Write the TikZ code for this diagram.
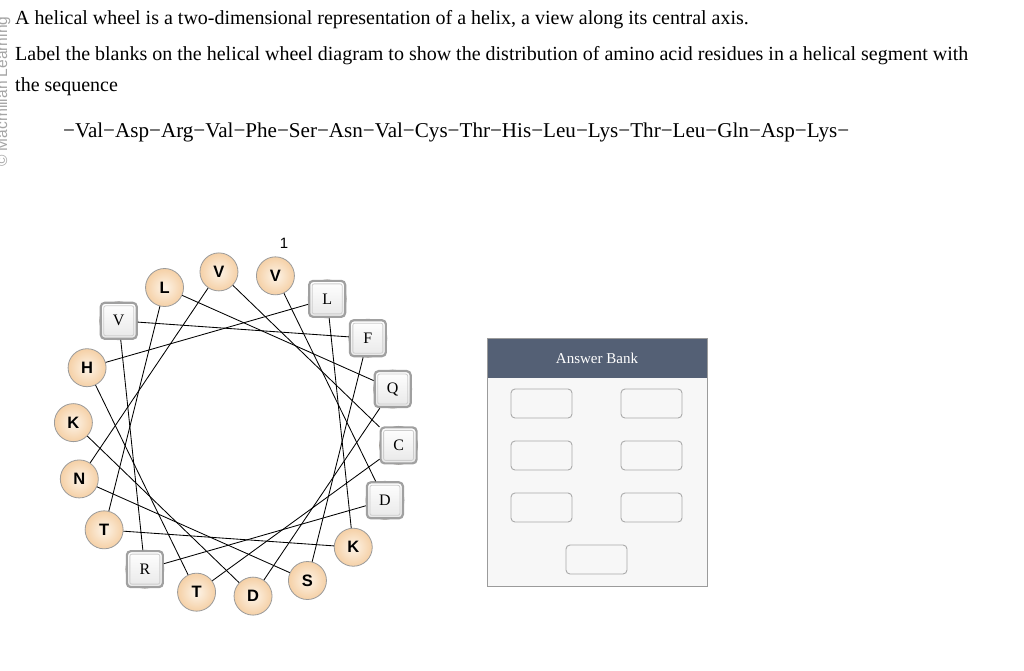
\documentclass[tikz,border=0pt]{standalone}
\usepackage{fontspec}
\setmainfont{Liberation Serif}
\newfontfamily\lsans{Liberation Sans}
\definecolor{peachin}{RGB}{253,244,232}
\definecolor{peachout}{RGB}{245,208,166}
\definecolor{ringgray}{RGB}{155,155,155}
\definecolor{boxgray}{RGB}{160,160,160}
\definecolor{boxinner}{RGB}{205,205,205}
\definecolor{bankhead}{RGB}{84,96,117}
\definecolor{bankfill}{RGB}{247,247,247}
\definecolor{bankline}{RGB}{155,155,155}
\definecolor{blankline}{RGB}{170,170,170}
\definecolor{wmgray}{RGB}{165,165,165}
\tikzset{
  resc/.style={circle, minimum size=38pt, inner sep=0pt, draw=ringgray, line width=0.8pt,
    shading=radial, inner color=peachin, outer color=peachout,
    font=\lsans\bfseries\fontsize{16.5}{16.5}\selectfont},
  resbox/.style={rectangle, rounded corners=4pt, minimum size=36pt, inner sep=0pt,
    draw=boxgray, line width=2.2pt, top color=white, bottom color=black!9,
    font=\fontsize{16}{16}\selectfont,
    path picture={\draw[boxinner, line width=0.8pt, rounded corners=2pt]
      ([xshift=3pt,yshift=3pt]path picture bounding box.south west) rectangle
      ([xshift=-3pt,yshift=-3pt]path picture bounding box.north east);}},
  link/.style={draw=black, line width=0.85pt},
  txt/.style={anchor=base west, inner sep=0pt, font=\fontsize{20}{20}\selectfont},
  blank/.style={rectangle, rounded corners=4pt, minimum width=61pt, minimum height=29pt,
    inner sep=0pt, draw=blankline, line width=0.9pt, fill=bankfill}
}
\newcommand\sm{\char"2212\relax}
\begin{document}
\begin{tikzpicture}[x=1pt,y=-1pt]
\useasboundingbox[fill=white] (0,0) rectangle (1024,670);
% watermark
\node[rotate=90, anchor=base west, inner sep=0pt, text=wmgray,
  font=\lsans\fontsize{15.5}{15.5}\selectfont] (wm) at (7,167) {© Macmillan Learning};
% texts
\node[txt] (t1) at (15,24) {A helical wheel is a two-dimensional representation of a helix, a view along its central axis.};
\node[txt] (t2) at (15,60.5) {Label the blanks on the helical wheel diagram to show the distribution of amino acid residues in a helical segment with};
\node[txt] (t3) at (15,91) {the sequence};
\node[txt, font=\fontsize{21.1}{21.1}\selectfont] (seq) at (63,137)
  {\sm Val\sm Asp\sm Arg\sm Val\sm Phe\sm Ser\sm Asn\sm Val\sm Cys\sm Thr\sm His\sm Leu\sm Lys\sm Thr\sm Leu\sm Gln\sm Asp\sm Lys\sm};
% positions
\foreach \i in {1,...,18}{
  \pgfmathsetmacro\ang{76-100*(\i-1)}
  \coordinate (p\i) at ({236+163*cos(\ang)},{434-163*sin(\ang)});
}
% circle residues
\foreach \i/\L in {1/V,6/S,7/N,8/V,10/T,11/H,13/K,14/T,15/L,17/D,18/K}{
  \node[resc] (r\i) at (p\i) {\L};
}
% boxed residues (blanks)
\foreach \i/\L in {2/D,3/R,4/V,5/F,9/C,12/L,16/Q}{
  \node[resc] (c\i) at (p\i) {};
  \node[resbox] (r\i) at (p\i) {\L};
}
\node[inner sep=0pt, font=\lsans\fontsize{15}{15}\selectfont] (one) at (284,243) {1};
% connectors
\foreach \a [evaluate=\a as \b using int(\a+1)] in {1,...,17}{
  \draw[link] (r\a) -- (r\b);
}
% answer bank
\node[rectangle, draw=bankline, line width=0.9pt, fill=bankfill, inner sep=0pt,
  minimum width=220pt, minimum height=248pt, anchor=north west] (bank) at (487,338) {};
\node[rectangle, fill=bankhead, inner sep=0pt, minimum width=219pt, minimum height=39pt,
  anchor=north west] (bankhead) at (487.5,338.5) {};
\node[text=white, inner sep=0pt, font=\fontsize{15}{15}\selectfont] (banktitle) at (597,358) {Answer Bank};
\node[blank] (b1) at (541.5,403.5) {};
\node[blank] (b2) at (651.5,403.5) {};
\node[blank] (b3) at (541.5,455.5) {};
\node[blank] (b4) at (651.5,455.5) {};
\node[blank] (b5) at (541.5,507.5) {};
\node[blank] (b6) at (651.5,507.5) {};
\node[blank] (b7) at (596.5,559.5) {};
\end{tikzpicture}
\end{document}
